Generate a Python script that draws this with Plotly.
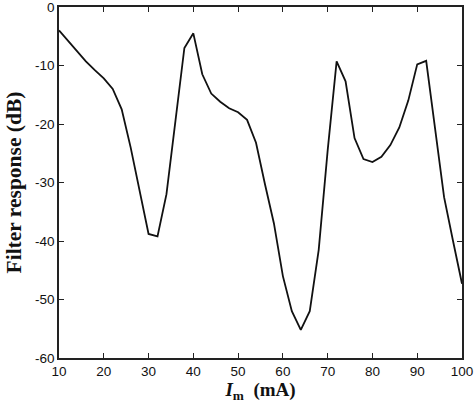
import plotly.graph_objects as go

current_mA = [10, 12, 14, 16, 18, 20, 22, 24, 26, 28, 30, 32, 34, 36, 38, 40, 42, 44, 46, 48,
              50, 52, 54, 56, 58, 60, 62, 64, 66, 68, 70, 72, 74, 76, 78, 80, 82, 84, 86, 88,
              90, 92, 94, 96, 98, 100]
response_dB = [-4.0, -5.8, -7.6, -9.3, -10.8, -12.2, -14.0, -17.5, -24.0, -31.7, -38.8, -39.2,
               -32.0, -19.5, -7.0, -4.5, -11.5, -14.8, -16.2, -17.3, -18.0, -19.3, -23.2,
               -30.3, -37.0, -46.0, -52.0, -55.2, -52.0, -41.5, -24.5, -9.3, -12.7, -22.4,
               -26.0, -26.5, -25.6, -23.6, -20.6, -16.0, -9.8, -9.2, -21.0, -32.5, -40.0, -47.3]

x_ticks = [10, 20, 30, 40, 50, 60, 70, 80, 90, 100]
y_ticks = [0, -10, -20, -30, -40, -50, -60]

fig = go.Figure()
fig.add_trace(go.Scatter(x=current_mA, y=response_dB, mode="lines",
                         line=dict(color="#111111", width=1.8), showlegend=False))

axis_common = dict(showline=True, linecolor="#222222", linewidth=1.5, mirror="ticks",
                   ticks="inside", ticklen=5, tickwidth=1.3, tickcolor="#222222",
                   showgrid=False, zeroline=False, ticklabeloverflow="allow", automargin=False,
                   tickfont=dict(family="Liberation Sans, Arial", size=13.5, color="#111111"))

fig.update_xaxes(range=[10, 100], tickvals=x_ticks, ticktext=[str(v) for v in x_ticks],
                 title=dict(text="<b><i>I</i><sub>m</sub>  (mA)</b>",
                            font=dict(family="Liberation Serif, Times New Roman", size=19, color="#111111"),
                            standoff=5),
                 **axis_common)
fig.update_yaxes(range=[-60, 0], tickvals=y_ticks, ticktext=[str(v) for v in y_ticks],
                 title=dict(text="<b>Filter response (dB)</b>",
                            font=dict(family="Liberation Serif, Times New Roman", size=21.5, color="#111111"),
                            standoff=8),
                 **axis_common)

fig.update_layout(width=474, height=410, margin=dict(l=59, r=12, t=7, b=52, autoexpand=False),
                  plot_bgcolor="white", paper_bgcolor="white")

fig.write_html("out.html")
